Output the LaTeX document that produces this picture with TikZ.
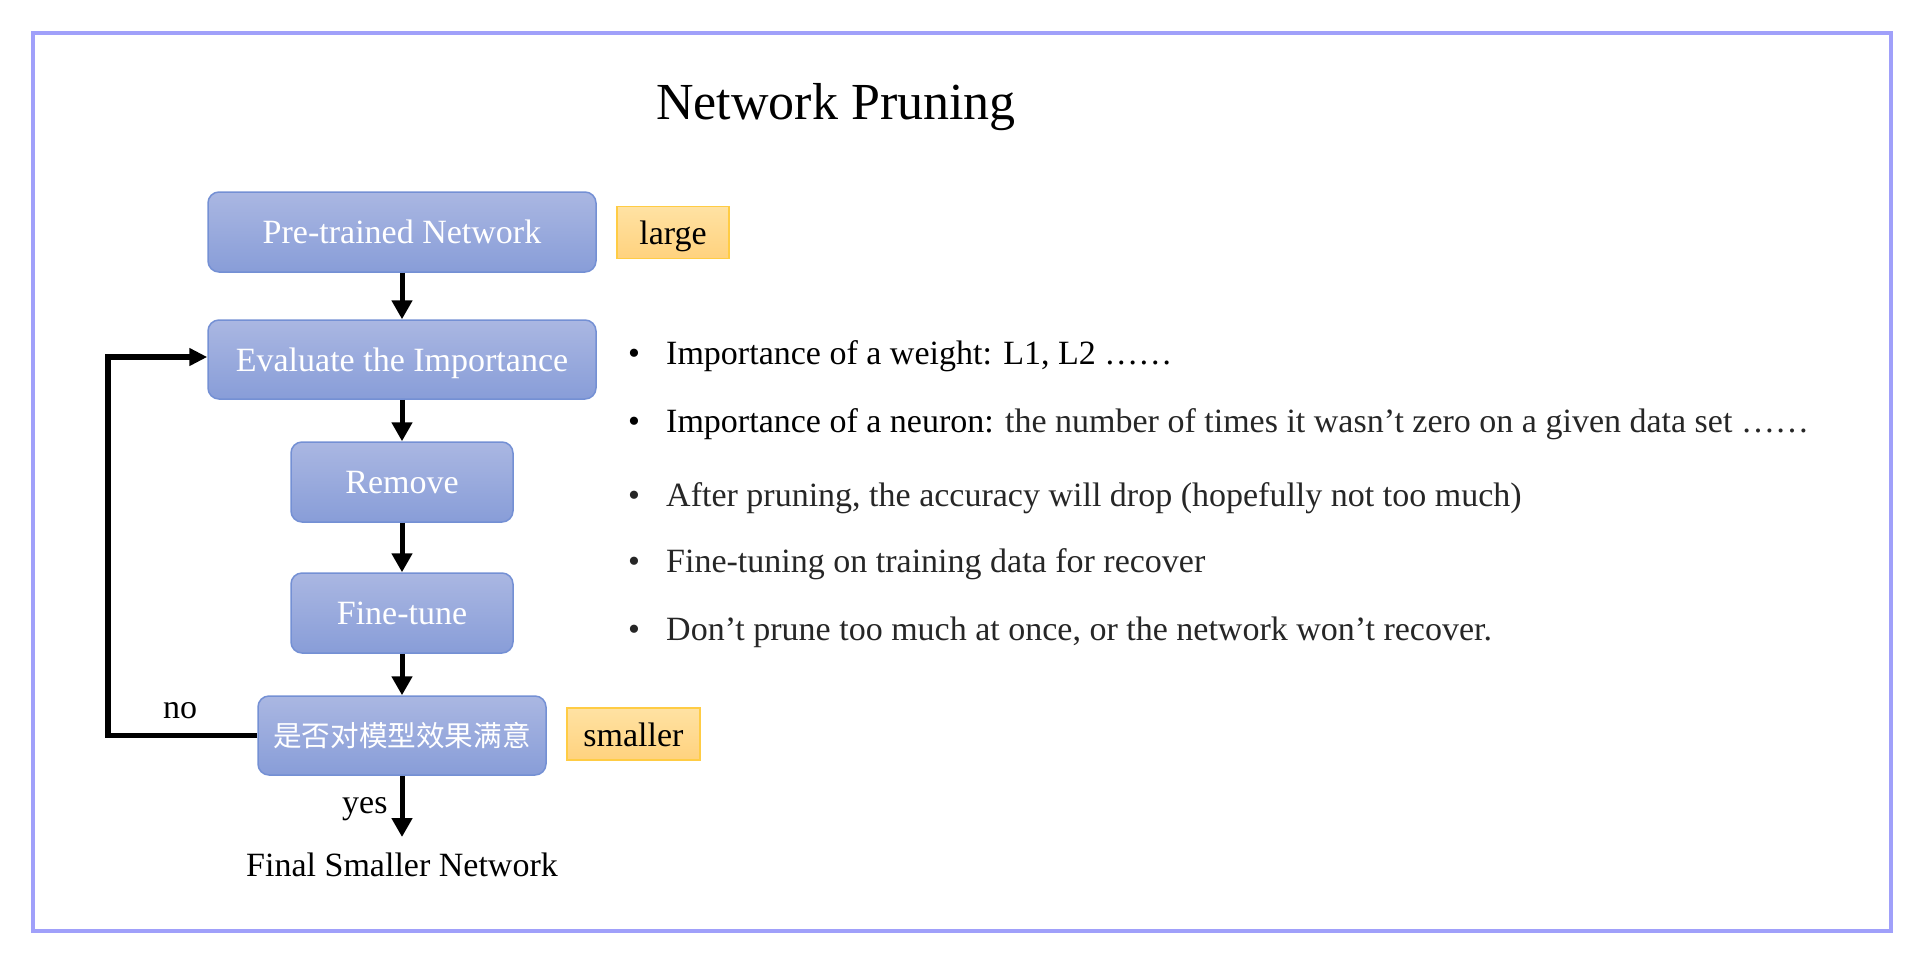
\documentclass[tikz,border=0pt]{standalone}
\usepackage{fontspec}
\setmainfont{Liberation Serif}
\newfontfamily\cjk{Noto Sans CJK SC}
\usetikzlibrary{arrows.meta}
\definecolor{frameblue}{HTML}{A0A0FA}
\definecolor{boxtop}{HTML}{AAB7E2}
\definecolor{boxbot}{HTML}{889DD8}
\definecolor{boxline}{HTML}{7490D4}
\definecolor{tagtop}{HTML}{FFE2A3}
\definecolor{tagbot}{HTML}{FFD27E}
\definecolor{tagline}{HTML}{FFCC44}
\definecolor{softblack}{HTML}{262626}
\tikzset{
  flowbox/.style={draw=boxline, line width=1.5pt, rounded corners=11pt,
    top color=boxtop, bottom color=boxbot, text=white,
    font=\fontsize{34}{40}\selectfont, inner sep=0pt, text height=25.5pt, text depth=2pt},
  tagbox/.style={draw=tagline, line width=1.5pt, top color=tagtop, bottom color=tagbot,
    text=black, font=\fontsize{34}{40}\selectfont, inner sep=0pt, text height=25.5pt, text depth=1.5pt},
  plain/.style={font=\fontsize{34}{40}\selectfont, inner sep=0pt},
  flowarrow/.style={line width=5pt, -{Triangle[length=19pt,width=20pt]}},
  bul/.style={font=\fontsize{34}{40}\selectfont, inner sep=0pt, anchor=base west}
}
\begin{document}
\begin{tikzpicture}[x=1pt,y=-1pt]
\useasboundingbox (0,0) rectangle (1920,962);
\draw[frameblue, line width=4pt] (33,33) rectangle (1891,931);

\node[font=\fontsize{52}{60}\selectfont, anchor=base, inner sep=0pt] (title) at (836,119) {Network Pruning};

\node[flowbox, minimum width=388pt, minimum height=80pt] (pre) at (402,232) {Pre-trained Network};
\node[flowbox, minimum width=388pt, minimum height=79pt] (eval) at (402,359.5) {Evaluate the Importance};
\node[flowbox, minimum width=222pt, minimum height=80pt] (rem) at (402,482) {Remove};
\node[flowbox, minimum width=222pt, minimum height=80pt] (fine) at (402,613) {Fine-tune};
\node[flowbox, minimum width=288pt, minimum height=79pt, text height=, text depth=, font=\cjk\fontsize{28.6}{34}\selectfont] (ok) at (402,735.5) {是否对模型效果满意};

\node[tagbox, minimum width=112pt, minimum height=52pt] (large) at (673,232.5) {large};
\node[tagbox, minimum width=133pt, minimum height=52pt] (small) at (633.5,734) {smaller};

\node[plain, anchor=base] (final) at (402,876) {Final Smaller Network};
\coordinate (finalin) at (402,837);
\coordinate (loopbot) at (108,735.5);
\coordinate (looptop) at (108,357);

\draw[flowarrow] (pre) -- (eval);
\draw[flowarrow] (eval) -- (rem);
\draw[flowarrow] (rem) -- (fine);
\draw[flowarrow] (fine) -- (ok);
\draw[flowarrow] (ok) -- node[plain, left=12pt, pos=0.55] (yes) {yes} (finalin);
\draw[line width=5.5pt, -{Triangle[length=18pt,width=17pt]}, line join=miter] (ok.west) -- (loopbot) -- (looptop) -- (eval.west |- looptop);
\node[plain] (no) at (180,711) {no};

\node[bul] (b1) at (628,364) {•};
\node[bul] (t1) at (666,364) {Importance of a weight: L1, L2 ……};
\node[bul] (b2) at (628,432) {•};
\node[bul] (t2) at (666,432) {Importance of a neuron: \textcolor{softblack}{the number of times it wasn’t zero on a given data set ……}};
\node[bul, text=softblack] (b3) at (628,506) {•};
\node[bul, text=softblack] (t3) at (666,506) {After pruning, the accuracy will drop (hopefully not too much)};
\node[bul, text=softblack] (b4) at (628,572) {•};
\node[bul, text=softblack] (t4) at (666,572) {Fine-tuning on training data for recover};
\node[bul, text=softblack] (b5) at (628,640) {•};
\node[bul, text=softblack] (t5) at (666,640) {Don’t prune too much at once, or the network won’t recover.};
\end{tikzpicture}
\end{document}
